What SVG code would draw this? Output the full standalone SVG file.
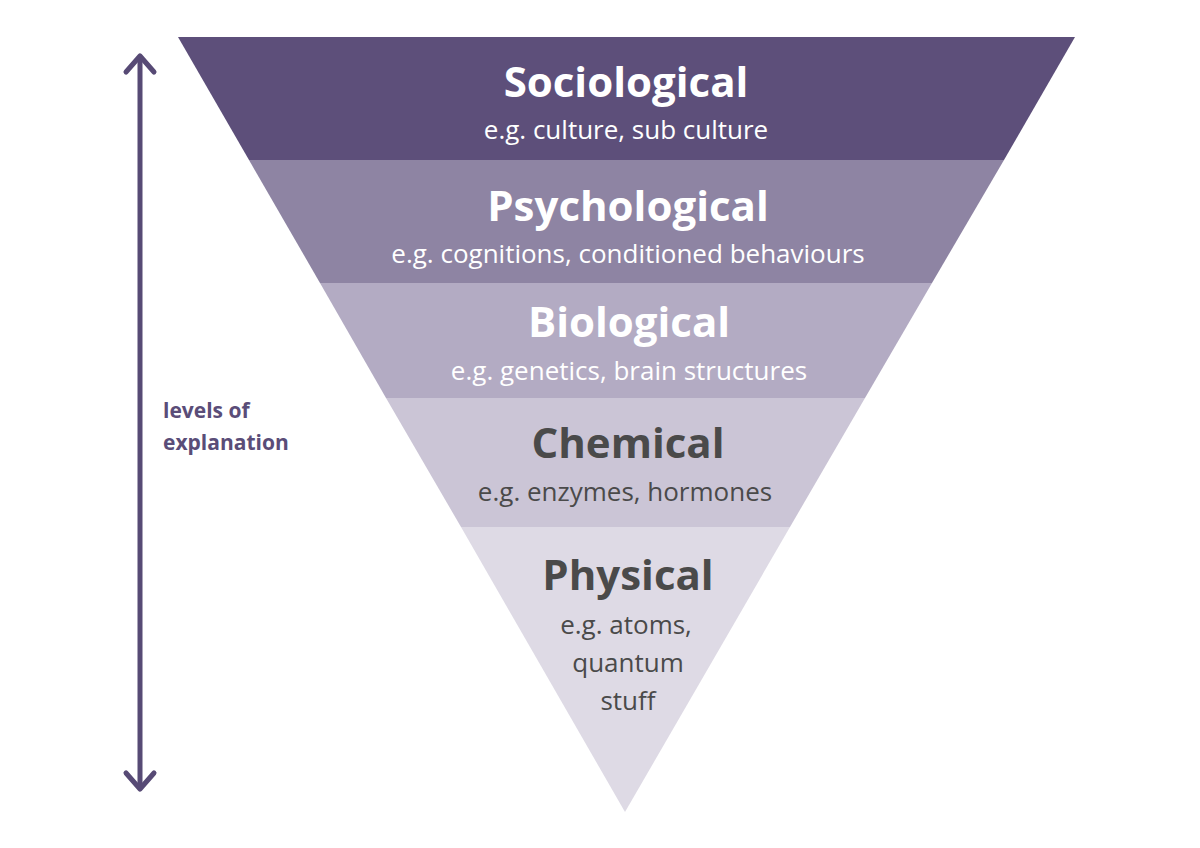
<svg xmlns="http://www.w3.org/2000/svg" width="1200" height="848" viewBox="0 0 1200 848">
<style>
.t{font-family:"Open Sans","Liberation Sans",sans-serif;font-weight:bold;font-size:42px;text-anchor:middle}
.s{font-family:"Open Sans","Liberation Sans",sans-serif;font-size:26px;text-anchor:middle}
.w{fill:#ffffff}.d{fill:#4a4a4a}
.lab{font-family:"Open Sans","Liberation Sans",sans-serif;font-weight:bold;font-size:21px;fill:#5a4d78}
</style>
<rect width="1200" height="848" fill="#ffffff"/>
<g id="sociological">
<polygon points="178,37 1075,37 1004,160 249,160" fill="#5d4f7a"/>
<text class="t w" x="626" y="97">Sociological</text>
<text class="s w" x="626" y="139">e.g. culture, sub culture</text>
</g>
<g id="psychological">
<polygon points="249,160 1004,160 932,283 320,283" fill="#8e84a3"/>
<text class="t w" x="628" y="221">Psychological</text>
<text class="s w" x="628" y="263">e.g. cognitions, conditioned behaviours</text>
</g>
<g id="biological">
<polygon points="320,283 932,283 865,398 386,398" fill="#b3abc3"/>
<text class="t w" x="629" y="337">Biological</text>
<text class="s w" x="629" y="380">e.g. genetics, brain structures</text>
</g>
<g id="chemical">
<polygon points="386,398 865,398 790,527 461,527" fill="#cbc5d6"/>
<text class="t d" x="628" y="458">Chemical</text>
<text class="s d" x="625" y="501">e.g. enzymes, hormones</text>
</g>
<g id="physical">
<polygon points="461,527 790,527 625,812" fill="#dedae5"/>
<text class="t d" x="628" y="590">Physical</text>
<text class="s d" x="626" y="634">e.g. atoms,</text>
<text class="s d" x="628" y="672">quantum</text>
<text class="s d" x="628" y="710">stuff</text>
</g>
<g id="connectors">
<line x1="140" y1="56" x2="140" y2="788" stroke="#574a75" stroke-width="5"/>
<polyline points="126,72 140,56 154,72" fill="none" stroke="#574a75" stroke-width="5" stroke-linecap="round" stroke-linejoin="round"/>
<polyline points="126,773 140,789 154,773" fill="none" stroke="#574a75" stroke-width="5" stroke-linecap="round" stroke-linejoin="round"/>
</g>
<g id="label">
<text class="lab" x="163" y="418">levels of</text>
<text class="lab" x="163" y="450">explanation</text>
</g>
</svg>
